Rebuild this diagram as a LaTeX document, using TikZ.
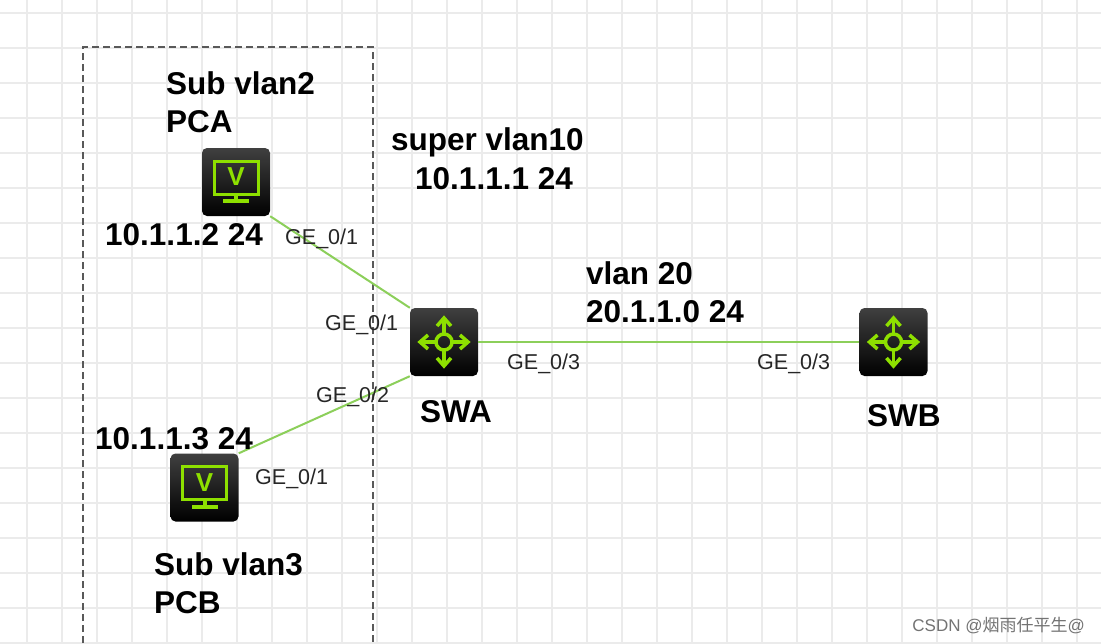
\documentclass[tikz,border=0pt]{standalone}
\usepackage{fontspec}
\setmainfont{Liberation Sans}
\newfontfamily\cjk{Noto Sans CJK SC}
\definecolor{lime2}{HTML}{8EE000}
\definecolor{linkc}{HTML}{8CCF5A}
\begin{document}
\begin{tikzpicture}[x=1pt,y=-1pt,
  lbl/.style={font=\fontsize{31.5}{34}\selectfont\bfseries,anchor=base west,inner sep=0,align=left},
  port/.style={font=\fontsize{21.5}{24}\selectfont,anchor=base west,inner sep=0,text=black!85},
  link/.style={draw=linkc,line width=2pt},
  gr/.style={lime2},
  icon/.style={draw=none,minimum size=68pt,rounded corners=5pt,top color=black!75,bottom color=black,inner sep=0}]
\useasboundingbox (0,0) rectangle (1101,643);
\fill[white] (0,0) rectangle (1101,643);
\foreach \i in {0,...,31} \draw[black!8,line width=2pt] (27+35*\i,0) -- (27+35*\i,643);
\foreach \j in {0,...,18} \draw[black!8,line width=2pt] (0,13+35*\j) -- (1101,13+35*\j);
\draw[black!65,line width=1.6pt,dash pattern=on 7pt off 4pt] (83,643) -- (83,47) -- (373,47) -- (373,643);
% icons
\node[icon] (pca) at (236,182) {};
\node[icon] (pcb) at (204.5,487.5) {};
\node[icon] (swa) at (444,342) {};
\node[icon] (swb) at (893.5,342) {};
\foreach \n in {pca,pcb}{
  \begin{scope}[shift={(\n.center)}]
    \draw[gr,line width=3pt] (-22,-21) rectangle (22,12);
    \fill[gr] (-2,12) rectangle (2,18);
    \fill[gr] (-13,17) rectangle (13,21);
    \node[text=lime2,font=\fontsize{26}{26}\selectfont\bfseries,inner sep=0] at (0,-5) {V};
  \end{scope}}
\foreach \n in {swa,swb}{
  \begin{scope}[shift={(\n.center)}]
    \draw[gr,line width=3.5pt] (0,0) circle (8);
    \foreach \a in {0,90,180,270}{
      \draw[gr,line width=3.5pt,rotate=\a] (8,0) -- (24,0);
      \draw[gr,line width=3.5pt,rotate=\a] (16,-7) -- (24,0) -- (16,7);}
  \end{scope}}
% links
\draw[link] (pca.south east) -- (swa.north west);
\draw[link] (pcb.north east) -- (swa.south west);
\draw[link] (swa) -- (swb);
% labels
\node[lbl] (t1) at (166,94) {Sub vlan2};
\node[lbl] (t2) at (166,132) {PCA};
\node[lbl] (t3) at (391,150) {super vlan10};
\node[lbl] (t4) at (415,189) {10.1.1.1 24};
\node[lbl] (t5) at (105,245) {10.1.1.2 24};
\node[lbl] (t6) at (586,284) {vlan 20};
\node[lbl] (t7) at (586,322) {20.1.1.0 24};
\node[lbl] (t8) at (420,422) {SWA};
\node[lbl] (t9) at (867,426) {SWB};
\node[lbl] (t10) at (95,449) {10.1.1.3 24};
\node[lbl] (t11) at (154,575) {Sub vlan3};
\node[lbl] (t12) at (154,613) {PCB};
\node[port] (p1) at (285,244) {GE\_0/1};
\node[port] (p2) at (325,330) {GE\_0/1};
\node[port] (p3) at (507,369) {GE\_0/3};
\node[port] (p4) at (757,369) {GE\_0/3};
\node[port] (p5) at (316,402) {GE\_0/2};
\node[port] (p6) at (255,484) {GE\_0/1};
\node[anchor=base east,inner sep=0,text=black!55,font=\fontsize{17}{20}\selectfont] (w) at (1085,631) {CSDN @{\cjk 烟雨任平生}@};
\end{tikzpicture}
\end{document}
